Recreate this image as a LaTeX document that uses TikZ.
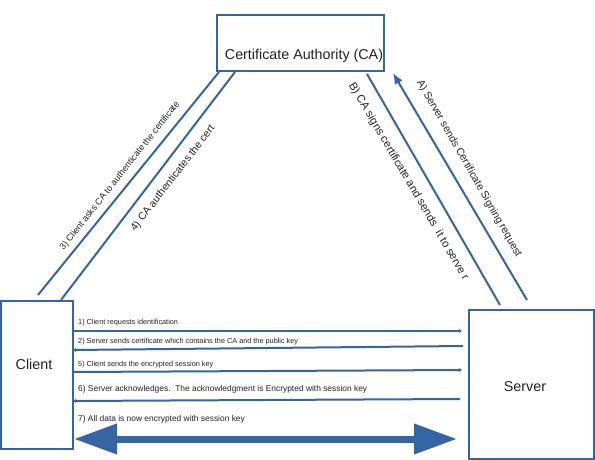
\documentclass[tikz,border=0pt]{standalone}
\usepackage{fontspec}
\setmainfont{Liberation Sans}
\usetikzlibrary{arrows.meta}
\definecolor{lblue}{RGB}{52,101,164}
\definecolor{tgray}{RGB}{35,35,35}
\begin{document}
\begin{tikzpicture}[x=1pt,y=-1pt,
  box/.style={draw=lblue, line width=2pt, fill=white, inner sep=0pt},
  conn/.style={draw=lblue, line width=2pt},
  smalltip/.style={-{Latex[length=3pt,width=4.5pt]}},
  tinylbl/.style={text=tgray, font=\fontsize{7.3}{9}\selectfont, inner sep=0pt},
  midlbl/.style={text=tgray, font=\fontsize{8.4}{10}\selectfont, inner sep=0pt},
  biglbl/.style={text=tgray, font=\fontsize{14.3}{17}\selectfont, inner sep=0pt}]
\useasboundingbox[fill=white] (0,0) rectangle (595,460);

% boxes
\node[box, minimum width=167pt, minimum height=56pt,
  label={[biglbl, anchor=center, xshift=3.5pt, yshift=-13pt]center:Certificate Authority (CA)}] (ca) at (300.5,43) {};
\node[box, minimum width=72pt, minimum height=148pt,
  label={[biglbl, anchor=center, xshift=-3pt, yshift=11pt]center:Client}] (client) at (37,375) {};
\node[box, minimum width=125pt, minimum height=149pt,
  label={[biglbl, anchor=center, xshift=-6.5pt, yshift=-2.5pt]center:Server}] (server) at (531.5,384.5) {};

% diagonal connector end points
\coordinate (l3a) at (38,295);  \coordinate (l3b) at (219,72);
\coordinate (l4a) at (61,300);  \coordinate (l4b) at (235,72);
\coordinate (lAa) at (527,300); \coordinate (lAb) at (393,73);
\coordinate (lBa) at (367,74);  \coordinate (lBb) at (500,305);

\draw[conn] (l3a) -- (l3b);
\draw[conn] (l4a) -- (l4b);
\draw[conn, -{Latex[length=11pt,width=9pt]}] (lAa) -- (lAb);
\draw[conn] (lBa) -- (lBb);

\node[text=tgray, inner sep=0pt, font=\fontsize{9}{11}\selectfont, rotate=51.6] (t3) at (120,176) {3) Client asks CA to authenticate the certificate};
\node[text=tgray, inner sep=0pt, font=\fontsize{10.5}{12}\selectfont, rotate=52.3] (t4) at (173,178.5) {4) CA authenticates the cert};
\node[text=tgray, inner sep=0pt, font=\fontsize{10.5}{12}\selectfont, rotate=-60.3] (tA) at (469,168.5) {A) Server sends Certificate Signing request};
\node[text=tgray, inner sep=0pt, font=\fontsize{11.2}{13}\selectfont, rotate=-59.6] (tB) at (408.5,181.5) {B) CA signs certificate and sends\ \ it to serve r};

% horizontal messages
\coordinate (h1a) at (73,331);  \coordinate (h1b) at (462,331);
\coordinate (h2a) at (463,346); \coordinate (h2b) at (73,350);
\coordinate (h5a) at (73,372);  \coordinate (h5b) at (462,370);
\coordinate (h6a) at (460,399); \coordinate (h6b) at (73,401);
\coordinate (h7a) at (74,439);  \coordinate (h7b) at (457,439);

\draw[conn, smalltip] (h1a) -- (h1b);
\draw[conn, smalltip] (h2a) -- (h2b);
\draw[conn, smalltip] (h5a) -- (h5b);
\draw[conn, smalltip] (h6a) -- (h6b);
\draw[draw=lblue, line width=7pt, {Triangle[length=43pt,width=29pt]}-{Triangle[length=43pt,width=29pt]}] (h7a) -- (h7b);

\node[tinylbl, anchor=west] (m1) at (78,323) {1) Client requests identification};
\node[tinylbl, anchor=west] (m2) at (78,342) {2) Server sends certificate which contains the CA and the public key};
\node[tinylbl, anchor=west] (m5) at (78,365) {5) Client sends the encrypted session key};
\node[midlbl, anchor=west] (m6) at (78,389) {6) Server acknowledges.\ \ The acknowledgment is Encrypted with session key};
\node[midlbl, anchor=west] (m7) at (78,419) {7) All data is now encrypted with session key};
\end{tikzpicture}
\end{document}
